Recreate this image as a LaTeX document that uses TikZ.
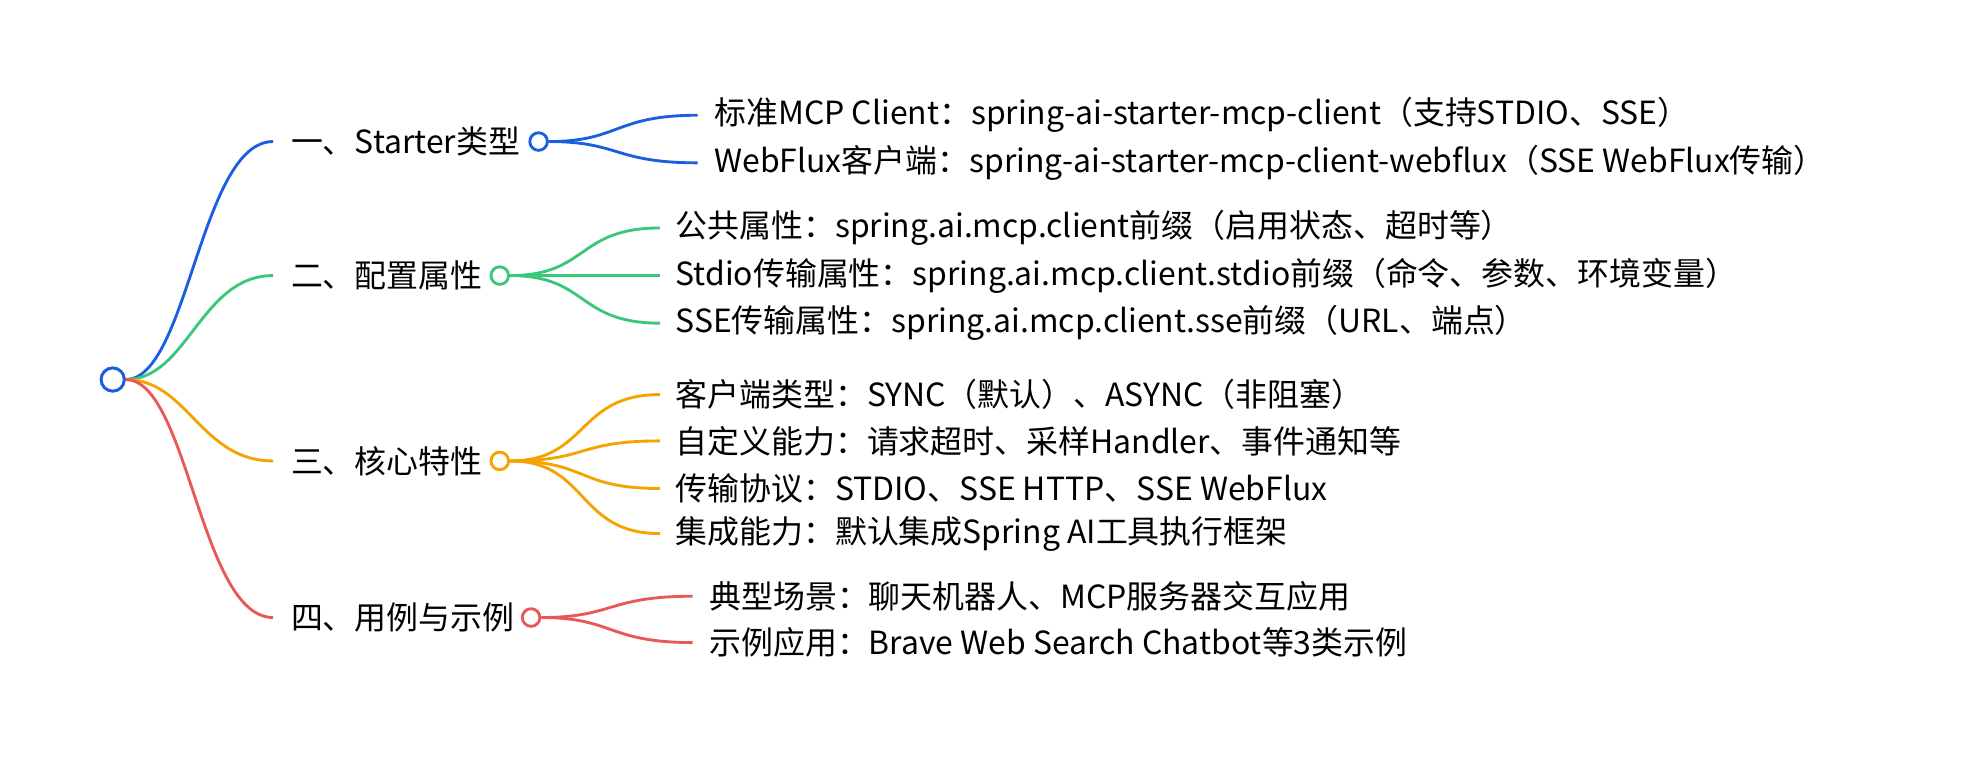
\documentclass[tikz,border=0pt]{standalone}
\usepackage{fontspec}
\setmainfont{Noto Sans CJK SC}
\definecolor{cblue}{HTML}{1A5FE0}
\definecolor{cgreen}{HTML}{3CC67A}
\definecolor{corange}{HTML}{F5A300}
\definecolor{cred}{HTML}{E85858}
\tikzset{
  dot/.style={circle, draw, line width=1.3pt, fill=white, minimum size=8pt, inner sep=0pt},
  rootdot/.style={dot, minimum size=10.5pt},
  lbl/.style={anchor=west, inner sep=0pt, font=\fontsize{14.5}{17}\selectfont},
  link/.style={line width=1.3pt}
}
\begin{document}
\begin{tikzpicture}[x=0.02cm, y=-0.02cm]
  \useasboundingbox (0,0) rectangle (1568,609);

  % root
  \node[rootdot, draw=cblue] (root) at (90,303) {};

  % branch points
  \coordinate (s1) at (218,113);
  \coordinate (s2) at (218,220);
  \coordinate (s3) at (218,368);
  \coordinate (s4) at (218,493);
  \node[lbl] (t1) at (232,113) {一、Starter类型};
  \node[lbl] (t2) at (232,220) {二、配置属性};
  \node[lbl] (t3) at (232,368) {三、核心特性};
  \node[lbl] (t4) at (232,493) {四、用例与示例};

  % root to branches
  \draw[link, cblue] (root.east) .. controls (150,303) and (160,113) .. (s1);
  \draw[link, cgreen] (root.east) .. controls (150,303) and (160,220) .. (s2);
  \draw[link, corange] (root.east) .. controls (150,303) and (160,368) .. (s3);
  \draw[link, cred] (root.east) .. controls (150,303) and (160,493) .. (s4);
  \node[rootdot, draw=cblue] at (root) {};

  % leaves
  \coordinate (a1) at (557,92);
  \coordinate (a2) at (557,130);
  \node[lbl] at (570,92) {标准MCP Client：spring-ai-starter-mcp-client（支持STDIO、SSE）};
  \node[lbl] at (570,130) {WebFlux客户端：spring-ai-starter-mcp-client-webflux（SSE WebFlux传输）};

  \coordinate (b1) at (527,182);
  \coordinate (b2) at (527,220);
  \coordinate (b3) at (527,258);
  \node[lbl] at (539,182) {公共属性：spring.ai.mcp.client前缀（启用状态、超时等）};
  \node[lbl] at (539,220) {Stdio传输属性：spring.ai.mcp.client.stdio前缀（命令、参数、环境变量）};
  \node[lbl] at (539,258) {SSE传输属性：spring.ai.mcp.client.sse前缀（URL、端点）};

  \coordinate (c1) at (527,315);
  \coordinate (c2) at (527,352);
  \coordinate (c3) at (527,390);
  \coordinate (c4) at (527,426);
  \node[lbl] at (539,315) {客户端类型：SYNC（默认）、ASYNC（非阻塞）};
  \node[lbl] at (539,352) {自定义能力：请求超时、采样Handler、事件通知等};
  \node[lbl] at (539,390) {传输协议：STDIO、SSE HTTP、SSE WebFlux};
  \node[lbl] at (539,426) {集成能力：默认集成Spring AI工具执行框架};

  \coordinate (e1) at (553,476);
  \coordinate (e2) at (553,513);
  \node[lbl] at (566,476) {典型场景：聊天机器人、MCP服务器交互应用};
  \node[lbl] at (566,513) {示例应用：Brave Web Search Chatbot等3类示例};

  \node[dot, draw=cblue] (d1) at (430,113) {};
  \node[dot, draw=cgreen] (d2) at (399,220) {};
  \node[dot, draw=corange] (d3) at (399,368) {};
  \node[dot, draw=cred] (d4) at (424,493) {};

  \draw[link, cblue] (d1.east) .. controls (495,113) and (490,92) .. (a1);
  \draw[link, cblue] (d1.east) .. controls (495,113) and (490,130) .. (a2);
  \draw[link, cgreen] (d2.east) .. controls (470,220) and (460,182) .. (b1);
  \draw[link, cgreen] (d2.east) -- (b2);
  \draw[link, cgreen] (d2.east) .. controls (470,220) and (460,258) .. (b3);
  \draw[link, corange] (d3.east) .. controls (470,368) and (460,315) .. (c1);
  \draw[link, corange] (d3.east) .. controls (470,368) and (460,352) .. (c2);
  \draw[link, corange] (d3.east) .. controls (470,368) and (460,390) .. (c3);
  \draw[link, corange] (d3.east) .. controls (470,368) and (460,426) .. (c4);
  \draw[link, cred] (d4.east) .. controls (490,493) and (485,476) .. (e1);
  \draw[link, cred] (d4.east) .. controls (490,493) and (485,513) .. (e2);
\end{tikzpicture}
\end{document}
